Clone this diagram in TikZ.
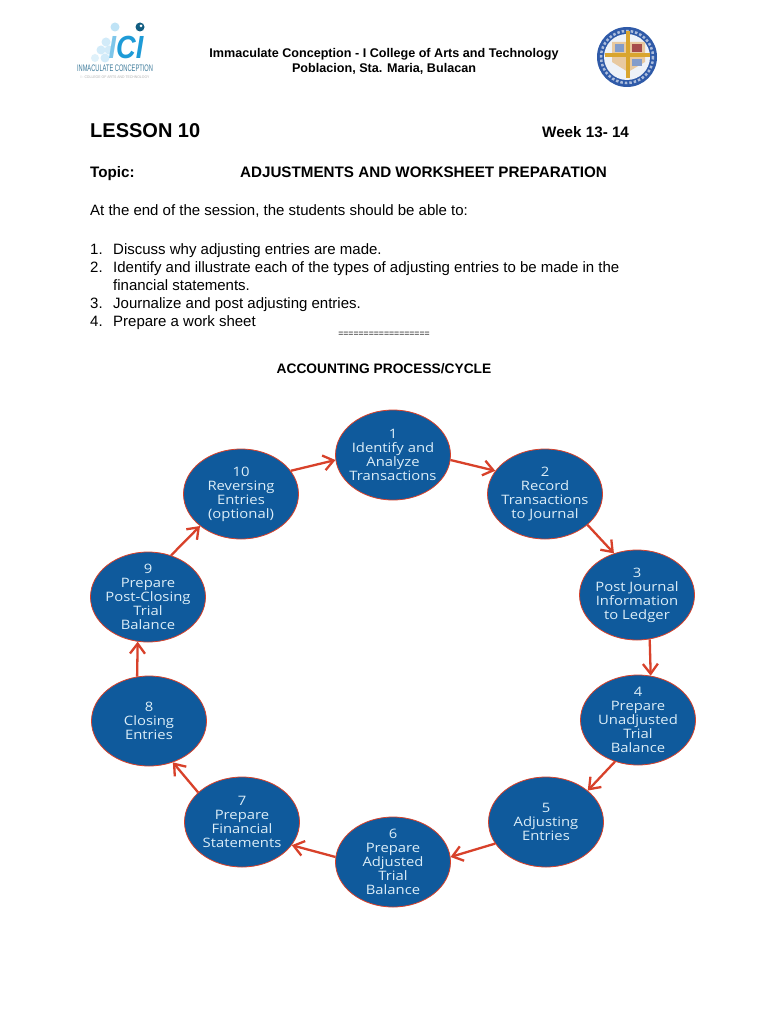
\documentclass[tikz,border=0pt]{standalone}
\usepackage{fontspec}
\setmainfont{Liberation Sans}
\newfontfamily\stepfont[FakeStretch=1.14]{Open Sans}
\usetikzlibrary{arrows.meta,shapes.geometric}

\definecolor{stepblue}{HTML}{0F5A9C}
\definecolor{stepred}{HTML}{D8412A}
\definecolor{steptext}{HTML}{DCEEF8}
\definecolor{logoblue}{HTML}{1E9BD7}
\definecolor{logolight}{HTML}{BFE3F6}
\definecolor{logoname}{HTML}{3F7C9C}
\definecolor{sealblue}{HTML}{2F5AA8}
\definecolor{sealgold}{HTML}{D9A52E}
\definecolor{sealtan}{HTML}{E8C9A0}

\tikzset{
  stepnode/.style={ellipse, draw=stepred, line width=0.8pt, fill=stepblue, text=steptext,
    minimum width=115pt, minimum height=90pt, inner sep=-10pt, align=center,
    font=\stepfont\fontsize{13}{14}\selectfont},
  steparrow/.style={-{Straight Barb[length=10pt,width=15pt]}, line width=2.3pt, stepred},
  body/.style={anchor=base west, inner sep=0pt, font=\fontsize{15}{17}\selectfont},
  bodybold/.style={body, font=\fontsize{15.2}{17}\selectfont\bfseries},
  head/.style={anchor=base, inner sep=0pt, font=\fontsize{12.6}{15}\selectfont\bfseries},
}

\begin{document}
\begin{tikzpicture}[x=1pt, y=-1pt]

    \useasboundingbox[fill=white] (0,0) rectangle (768,1024);

    % Left logo
    \fill[logolight] (115,27) circle[radius=4.5];
    \fill[logolight!70] (106,42) circle[radius=4.5];
    \fill[logolight!70] (101,50) circle[radius=4.5];
    \fill[logolight!70] (109,50) circle[radius=4.5];
    \fill[logolight!70] (105,58) circle[radius=4.5];
    \fill[logolight!50] (95,58) circle[radius=4];
    \fill[logoblue!60!black] (140,27) circle[radius=4.5];
    \fill[white] (141,26) circle[radius=1.5];
    \node[inner sep=0pt, xscale=0.85, font=\fontsize{32}{32}\selectfont\bfseries\itshape] (logoletters) at (126,47)
      {\textcolor{logolight!60!logoblue}{I}\textcolor{logoblue}{CI}};
    \node[inner sep=0pt, xscale=0.6, text=logoname, font=\fontsize{9.5}{10}\selectfont] (logoname) at (115,68) {INMACULATE CONCEPTION};
    \node[inner sep=0pt, xscale=0.9, text=gray!60, font=\fontsize{3.8}{4}\selectfont] (logosub) at (115,77) {I - COLLEGE OF ARTS AND TECHNOLOGY};

    % Header
    \node[head] (school) at (384,58) {Immaculate Conception - I College of Arts and Technology};
    \node[head] (town) at (384,73) {Poblacion, Sta. Maria, Bulacan};

    % Right seal
    \fill[sealblue] (627,57) circle[radius=30];
    \draw[white!60!sealblue, line width=2.5pt, dotted] (627,57) circle[radius=26];
    \fill[white!92!sealblue] (627,57) circle[radius=23];
    \fill[sealtan] (612,42) -- (645,42) -- (645,62) -- (628,72) -- (612,62) -- cycle;
    \fill[red!50!black!70] (632,44) rectangle (642,52);
    \fill[sealblue!60] (615,44) rectangle (624,52);
    \fill[sealblue!60] (632,59) rectangle (642,66);
    \fill[sealgold] (626,31) rectangle (630,78);
    \fill[sealgold] (605,53) rectangle (650,57);

    % Lesson heading
    \node[anchor=base west, inner sep=0pt, font=\fontsize{20}{24}\selectfont\bfseries] (lesson) at (90,138) {LESSON 10};
    \node[bodybold] (week) at (542,138) {Week 13- 14};
    \node[bodybold] (topic) at (90,178) {Topic:};
    \node[anchor=base, inner sep=0pt, font=\fontsize{15.2}{17}\selectfont\bfseries] (title) at (423.5,178) {ADJUSTMENTS AND WORKSHEET PREPARATION};

    % Objectives
    \node[body] (intro) at (90,216) {At the end of the session, the students should be able to:};
    \node[body] (num1) at (90,254) {1.};
    \node[body] (obj1) at (113,254) {Discuss why adjusting entries are made.};
    \node[body] (num2) at (90,272) {2.};
    \node[body] (obj2) at (113,272) {Identify and illustrate each of the types of adjusting entries to be made in the};
    \node[body] (obj2b) at (113,290) {financial statements.};
    \node[body] (num3) at (90,308) {3.};
    \node[body] (obj3) at (113,308) {Journalize and post adjusting entries.};
    \node[body] (num4) at (90,326) {4.};
    \node[body] (obj4) at (113,326) {Prepare a work sheet};

    \node[inner sep=0pt, font=\fontsize{8.7}{9}\selectfont] (rule) at (384,334) {==================};
    \node[anchor=base, inner sep=0pt, font=\fontsize{13.75}{17}\selectfont\bfseries] (cycle) at (384,373) {ACCOUNTING PROCESS/CYCLE};

    % Steps
    \node[stepnode] (s1) at (393,455) {1\\Identify and\\Analyze\\Transactions};
    \node[stepnode] (s2) at (545,494) {2\\Record\\Transactions\\to Journal};
    \node[stepnode] (s3) at (637,595) {3\\Post Journal\\Information\\to Ledger};
    \node[stepnode] (s4) at (638,720) {4\\Prepare\\Unadjusted\\Trial\\Balance};
    \node[stepnode] (s5) at (546,822) {5\\Adjusting\\Entries};
    \node[stepnode] (s6) at (393,862) {6\\Prepare\\Adjusted\\Trial\\Balance};
    \node[stepnode] (s7) at (242,822) {7\\Prepare\\Financial\\Statements};
    \node[stepnode] (s8) at (149,721) {8\\Closing\\Entries};
    \node[stepnode] (s9) at (148,597) {9\\Prepare\\Post-Closing\\Trial\\Balance};
    \node[stepnode] (s10) at (241,494) {10\\Reversing\\Entries\\(optional)};

    % Arrows round the cycle
    \draw[steparrow] (s1.-5) -- (s2.155);
    \draw[steparrow] (s2.-36) -- (s3.119);
    \draw[steparrow] (s3.-74) -- (s4.74);
    \draw[steparrow] (s4.-119) -- (s5.37);
    \draw[steparrow] (s5.-157) -- (s6.5);
    \draw[steparrow] (s6.175) -- (s7.-25);
    \draw[steparrow] (s7.146) -- (s8.-60);
    \draw[steparrow] (s8.105) -- (s9.-103);
    \draw[steparrow] (s9.61) -- (s10.-142);
    \draw[steparrow] (s10.25) -- (s1.-175);

\end{tikzpicture}
\end{document}
